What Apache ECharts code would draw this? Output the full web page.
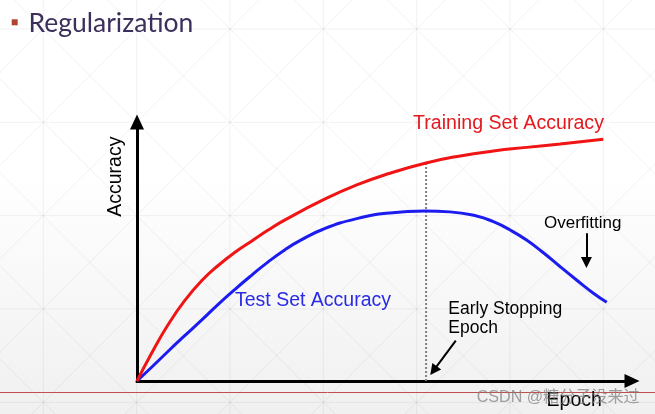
<!DOCTYPE html>
<html><head><meta charset="utf-8">
<script src="https://cdn.jsdelivr.net/npm/echarts@6/dist/echarts.min.js"></script>
<style>html,body{margin:0;padding:0;background:#fff}#c{width:655px;height:414px}</style>
</head><body><div id="c"></div>
<script>
// Training set accuracy curve (epoch %, accuracy %)
const trainEpochs = [0, 3.0, 6.3, 9.7, 13.1, 16.4, 19.8, 23.2, 26.5, 29.9, 37.6, 44.4, 51.1, 58.2, 65.3, 72.0, 78.7, 85.5, 94.2];
const trainAcc    = [0, 10.9, 21.8, 31.2, 38.8, 44.6, 49.7, 54.1, 58.3, 62.2, 69.9, 75.7, 80.2, 84.1, 86.9, 88.8, 90.2, 91.5, 93.3];
// Test set accuracy curve
const testEpochs  = [0, 3.0, 6.3, 9.7, 13.1, 16.4, 19.8, 23.2, 26.5, 29.9, 32.9, 37.6, 44.4, 51.1, 58.2, 63.2, 68.6, 72.0, 75.4, 78.7, 82.1, 85.5, 88.8, 92.2, 94.9];
const testAcc     = [0, 5.4, 11.5, 17.6, 23.6, 29.6, 35.4, 40.9, 46.0, 50.7, 54.2, 58.6, 62.7, 64.9, 65.6, 65.3, 63.7, 61.5, 58.3, 54.4, 49.5, 44.1, 39.0, 33.9, 30.4];
// Early stopping point
const stopEpoch = 58.4;
const stopAcc = 84.2;
// Annotation arrows [start, end] in data units
const overfitArrow = [[90.8, 57.0], [90.8, 45.8]];
const earlyArrow   = [[64.4, 15.6], [59.9, 4.0]];
// Texts
const titleText = 'Regularization';
const trainLabel = 'Training Set Accuracy';
const testLabel = 'Test Set Accuracy';
const overfitLabel = 'Overfitting';
const earlyLabel = ['Early Stopping', 'Epoch'];
const xName = 'Epoch';
const yName = 'Accuracy';
const watermark = 'CSDN @糖分子没来过';

const chart = echarts.init(document.getElementById('c'), null, {renderer: 'canvas'});

const ARIAL = '"Liberation Sans", Arial, sans-serif';
const bg = [];
bg.push({type: 'rect', z: -20, silent: true, shape: {x: 0, y: 0, width: 655, height: 414},
  style: {fill: new echarts.graphic.LinearGradient(0, 0, 0, 1, [
    {offset: 0, color: '#ffffff'}, {offset: 0.42, color: '#ffffff'}, {offset: 1, color: '#f0f0f0'}])}});
const step = 93.33, gx0 = 43.33, gy0 = 29;
const lineColor = 'rgba(0,0,0,0.055)';
for (let i = 0; i < 7; i++) {
  const x = gx0 + step * i;
  bg.push({type: 'line', z: -19, silent: true, shape: {x1: x, y1: 0, x2: x, y2: 414}, style: {stroke: lineColor, lineWidth: 1}});
}
for (let j = 0; j < 5; j++) {
  const y = gy0 + step * j;
  bg.push({type: 'line', z: -19, silent: true, shape: {x1: 0, y1: y, x2: 655, y2: y}, style: {stroke: lineColor, lineWidth: 1}});
}
for (let k = -8; k <= 8; k++) {
  const c = gx0 - gy0 + step * k;
  bg.push({type: 'line', z: -19, silent: true, shape: {x1: c - 100, y1: -100, x2: c + 700, y2: 700}, style: {stroke: lineColor, lineWidth: 1}});
}
for (let k = -2; k <= 14; k++) {
  const d = gx0 + gy0 + step * k;
  bg.push({type: 'line', z: -19, silent: true, shape: {x1: d + 100, y1: -100, x2: d - 700, y2: 700}, style: {stroke: lineColor, lineWidth: 1}});
}

const texts = [
  {type: 'rect', z: 50, silent: true, shape: {x: 11.7, y: 19.3, width: 6, height: 6}, style: {fill: '#b0442f'}},
  {type: 'text', z: 50, silent: true, x: 28.5, y: 23.5, style: {text: titleText, fontFamily: 'Lato, "Open Sans", sans-serif', fontSize: 26.5, fill: '#3d2f5b', verticalAlign: 'middle'}},
  {type: 'text', z: 50, silent: true, x: 413, y: 124, style: {text: trainLabel, fontFamily: ARIAL, fontSize: 19.6, fill: '#e3191e', verticalAlign: 'middle'}},
  {type: 'text', z: 50, silent: true, x: 235, y: 300.5, style: {text: testLabel, fontFamily: ARIAL, fontSize: 19.5, fill: '#2a2ae6', verticalAlign: 'middle'}},
  {type: 'text', z: 50, silent: true, x: 544, y: 223, style: {text: overfitLabel, fontFamily: ARIAL, fontSize: 17, fill: '#000', verticalAlign: 'middle'}},
  {type: 'text', z: 50, silent: true, x: 448.3, y: 308.8, style: {text: earlyLabel[0], fontFamily: ARIAL, fontSize: 17.5, fill: '#000', verticalAlign: 'middle'}},
  {type: 'text', z: 50, silent: true, x: 448.3, y: 328.5, style: {text: earlyLabel[1], fontFamily: ARIAL, fontSize: 17.5, fill: '#000', verticalAlign: 'middle'}},
  {type: 'text', z: 50, silent: true, x: 115.5, y: 176.7, rotation: Math.PI / 2, style: {text: yName, fontFamily: ARIAL, fontSize: 19.5, fill: '#000', align: 'center', verticalAlign: 'middle'}},
  {type: 'line', z: 40, silent: true, shape: {x1: 0, y1: 392.5, x2: 655, y2: 392.5}, style: {stroke: '#c0504d', lineWidth: 1}},
  {type: 'text', z: 50, silent: true, x: 574.2, y: 400.5, style: {text: xName, fontFamily: ARIAL, fontSize: 19.5, fill: '#000', align: 'center', verticalAlign: 'middle'}},
  {type: 'text', z: 60, silent: true, x: 476.7, y: 397.5, style: {text: watermark, fontFamily: '"Liberation Sans", "Noto Sans CJK SC", sans-serif', fontSize: 16.1, fill: 'rgba(130,130,130,0.75)', verticalAlign: 'middle'}}
];

const option = {
  animation: false,
  backgroundColor: 'transparent',
  grid: {left: 137, right: 23, top: 122, bottom: 33},
  xAxis: {
    type: 'value', min: 0, max: 100,
    axisLine: {show: true, onZero: false, symbol: ['none', 'triangle'], symbolSize: [14, 15], lineStyle: {color: '#000', width: 3}},
    axisTick: {show: false}, axisLabel: {show: false}, splitLine: {show: false}
  },
  yAxis: {
    type: 'value', min: 0, max: 100,
    axisLine: {show: true, onZero: false, symbol: ['none', 'triangle'], symbolSize: [14, 15], lineStyle: {color: '#000', width: 3}},
    axisTick: {show: false}, axisLabel: {show: false}, splitLine: {show: false}
  },
  graphic: {elements: bg.concat(texts)},
  series: [
    {
      type: 'line', name: 'stop', silent: true, z: 2,
      data: [[stopEpoch, 0], [stopEpoch, stopAcc]],
      showSymbol: false, symbol: 'none',
      lineStyle: {color: '#808080', width: 2, type: [2, 2]},
      markLine: {
        silent: true, symbol: ['none', 'triangle'], symbolSize: 11,
        label: {show: false},
        lineStyle: {color: '#000', width: 2, type: 'solid'},
        emphasis: {disabled: true},
        data: [
          [{coord: overfitArrow[0]}, {coord: overfitArrow[1]}],
          [{coord: earlyArrow[0]}, {coord: earlyArrow[1]}]
        ]
      }
    },
    {
      type: 'line', name: 'train', silent: true, z: 4,
      data: trainEpochs.map((e, i) => [e, trainAcc[i]]),
      smooth: 0.5, showSymbol: false, symbol: 'none',
      lineStyle: {color: '#f01414', width: 3}
    },
    {
      type: 'line', name: 'test', silent: true, z: 3,
      data: testEpochs.map((e, i) => [e, testAcc[i]]),
      smooth: 0.5, showSymbol: false, symbol: 'none',
      lineStyle: {color: '#1c1cf0', width: 3}
    }
  ]
};
chart.setOption(option);
</script>
</body></html>
